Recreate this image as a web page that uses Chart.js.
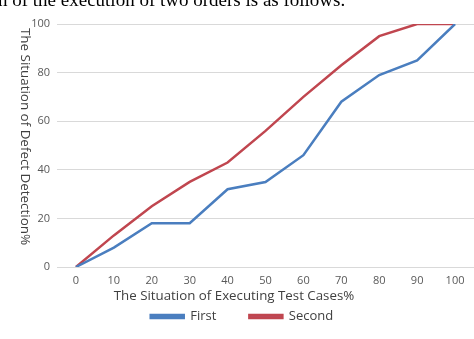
<!DOCTYPE html>
<html>
<head>
<meta charset="utf-8">
<script src="https://cdn.jsdelivr.net/npm/chart.js@4/dist/chart.umd.min.js"></script>
<style>
    body{ margin:0; background:#fff; }
    #wrap{ position:relative; width:474px; height:339px; overflow:hidden; }
    #topText{
        position:absolute; left:-2px; top:-11px; white-space:nowrap;
        font-family:"Liberation Serif","DejaVu Serif",serif; font-size:19px; color:#000;
    }
    #caption{
        position:absolute; left:0; width:474px; top:336px; text-align:center; white-space:nowrap;
        font-family:"Liberation Serif","DejaVu Serif",serif; font-size:19px; color:#000;
    }
</style>
</head>
<body>
<div id="wrap">
    <canvas id="chart" width="474" height="339"></canvas>
    <div id="topText">n of the execution of two orders is as follows.</div>
    <div id="caption">Fig. 1 The figure of comparison</div>
</div>
<script>
// 数据
const categories = ["0","10","20","30","40","50","60","70","80","90","100"];
const firstValues = [0, 8, 18, 18, 32, 35, 46, 68, 79, 85, 100];
const secondValues = [0, 13, 25, 35, 43, 56, 70, 83, 95, 100, 100];
const yTicks = [0, 20, 40, 60, 80, 100];

const xTitle = "The Situation of Executing Test Cases%";
const yTitle = "The Situation of Defect Detection%";

// 两个轴标题自己画：纵轴标题顺时针旋转（从上往下读），横轴标题居中于整张图
const axisTitlePlugin = {
    id:"axisTitlePlugin",
    afterLayout(chart){
        // 图例整体稍微右移
        chart.legend.left += 5;
        chart.legend.right += 5;
    },
    afterDraw(chart){
        const ctx = chart.ctx;
        const area = chart.chartArea;
        ctx.save();
        ctx.fillStyle = "#404040";
        ctx.textAlign = "center";
        ctx.textBaseline = "middle";
        ctx.font = "13.3px 'Open Sans'";
        ctx.fillText(xTitle, 234, area.bottom + 29);
        ctx.translate(25, (area.top + area.bottom) / 2 - 9);
        ctx.rotate(Math.PI / 2);
        ctx.font = "13.4px 'Open Sans'";
        ctx.fillText(yTitle, 0, 0);
        ctx.restore();
    }
};

new Chart(document.getElementById("chart"), {
    type:"line",
    data:{
        labels:categories,
        datasets:[
            {
                label:"First",
                data:firstValues,
                borderColor:"#4a7ebf",
                backgroundColor:"#4a7ebf",
                borderWidth:2.5,
                pointRadius:0,
                tension:0
            },
            {
                label:"Second",
                data:secondValues,
                borderColor:"#c0464f",
                backgroundColor:"#b84a66",
                borderWidth:2.5,
                pointRadius:0,
                tension:0
            }
        ]
    },
    options:{
        responsive:false,
        animation:false,
        layout:{
            padding:{ top:24, right:0, bottom:6, left:0 }
        },
        plugins:{
            legend:{
                position:"bottom",
                labels:{
                    boxWidth:33,
                    boxHeight:3,
                    padding:6,
                    color:"#404040",
                    font:{ family:"Open Sans", size:13 },
                    // 图例项之间留出更大的间隔
                    generateLabels(chart){
                        const items = Chart.defaults.plugins.legend.labels.generateLabels(chart);
                        items[0].text = items[0].text + "        ";
                        return items;
                    }
                }
            },
            tooltip:{ enabled:false }
        },
        scales:{
            x:{
                offset:true,
                afterFit(scale){ scale.height = 37; },
                grid:{ display:false, drawTicks:false },
                border:{ display:false },
                ticks:{
                    color:"#595959",
                    padding:7,
                    maxRotation:0,
                    font:{ family:"Open Sans", size:11 }
                }
            },
            y:{
                min:0,
                max:100,
                afterFit(scale){ scale.width = 57; },
                afterBuildTicks(scale){ scale.ticks = yTicks.map(v => ({ value:v })); },
                grid:{ color:"#d9d9d9", drawTicks:false, lineWidth:1 },
                border:{ display:false },
                ticks:{
                    color:"#595959",
                    padding:7,
                    font:{ family:"Open Sans", size:11 }
                }
            }
        }
    },
    plugins:[axisTitlePlugin]
});
</script>
</body>
</html>
